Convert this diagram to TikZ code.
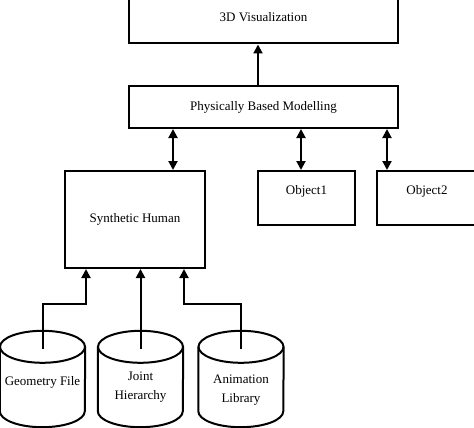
\documentclass[tikz,border=0pt]{standalone}
\usepackage{fontspec}
\setmainfont{Liberation Serif}
\usetikzlibrary{arrows.meta,positioning}
\tikzstyle{arrow} = [line width=2pt,-{Triangle[length=9pt,width=9pt]}]
\tikzstyle{dblarrow} = [line width=2pt,{Triangle[length=9pt,width=9pt]}-{Triangle[length=9pt,width=9pt]}]
\tikzstyle{block} = [rectangle, draw, line width=2pt, inner sep=0pt, text centered, font=\fontsize{13}{19}\selectfont]
\tikzstyle{store} = [rectangle, minimum width=85pt, minimum height=64pt, inner sep=0pt, text centered, font=\fontsize{13}{19}\selectfont]
\tikzstyle{storeline} = [line width=2pt]

\begin{document}
\begin{tikzpicture}[x=1pt,y=-1pt]
\useasboundingbox (0,0) rectangle (474,428);
% Boxes
\node (viz) [block, minimum width=269pt, minimum height=53pt] at (263.5,17) {3D Visualization};
\node (pbm) [block, below of=viz, node distance=90pt, minimum width=269pt, minimum height=42pt] {Physically Based Modelling};
\node (human) [block, minimum width=140pt, minimum height=97pt] at (135,219.5) {Synthetic Human};
\node (obj1) [block, minimum width=97pt, text height=23.5pt, text depth=30.5pt] at (306.5,198) {Object1};
\node (obj2) [block, right of=obj1, node distance=120.5pt, minimum width=100pt, text height=23.5pt, text depth=30.5pt] {Object2};

% Data stores (cylinders drawn round the nodes)
\node (geo) [store, text height=38.5pt, text depth=25.5pt] at (42.5,379) {Geometry File};
\node (joint) [store, right of=geo, node distance=98pt, text height=42pt, text depth=22pt] {
\begin{tabular}{c}
Joint\\
Hierarchy
\end{tabular}
};
\node (anim) [store, right of=joint, node distance=100.5pt, text height=45pt, text depth=19pt] {
\begin{tabular}{c}
Animation\\
Library
\end{tabular}
};
\foreach \n in {geo,joint,anim} {
  \draw[storeline] (\n.north) ellipse[x radius=42.5pt, y radius=16pt];
  \draw[storeline] (\n.north west) -- (\n.south west) arc[start angle=180, end angle=360, x radius=42.5pt, y radius=16pt] -- (\n.north east);
}

% Arrows
\draw[arrow] ([xshift=-5.5pt]pbm.north) -- ([xshift=-5.5pt]pbm.north |- viz.south);
\draw[dblarrow] ([xshift=38pt]human.north |- pbm.south) -- ([xshift=38pt]human.north);
\draw[dblarrow] ([xshift=-5.5pt]obj1.north |- pbm.south) -- ([xshift=-5.5pt]obj1.north);
\draw[dblarrow] ([xshift=-40pt]obj2.north |- pbm.south) -- ([xshift=-40pt]obj2.north);
\draw[arrow] ([yshift=-2pt]geo.north) -- ++(0,-45) -| ([xshift=22pt]human.south west);
\draw[arrow] ([yshift=-2pt]joint.north) -- (joint.north |- human.south);
\draw[arrow] ([yshift=-2pt]anim.north) -- ++(0,-45) -| ([xshift=-22pt]human.south east);
\end{tikzpicture}
\end{document}
